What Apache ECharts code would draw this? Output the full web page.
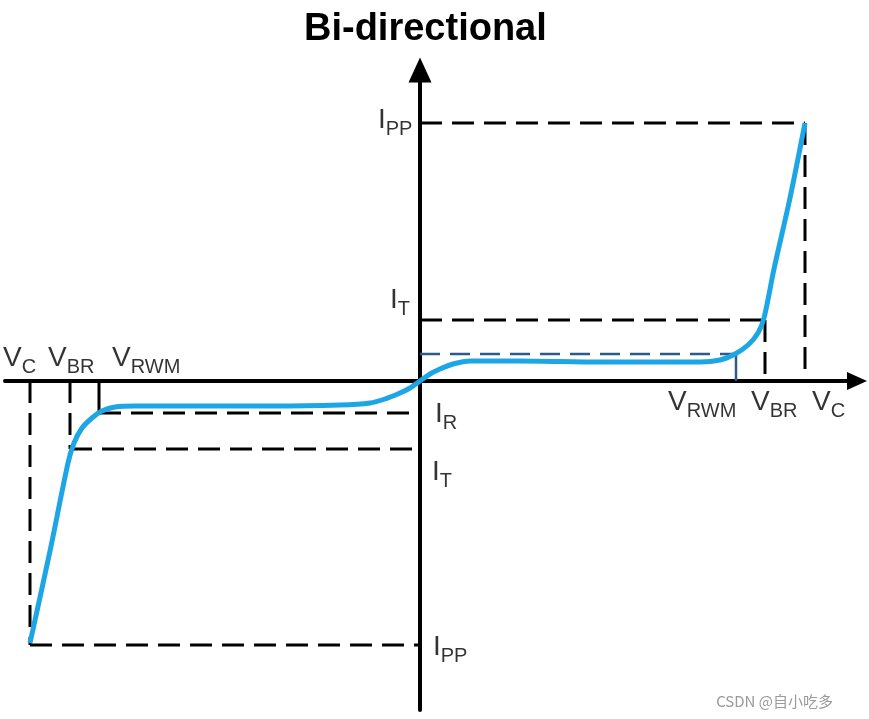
<!DOCTYPE html>
<html>
<head>
<meta charset="utf-8">
<script src="https://cdn.jsdelivr.net/npm/echarts@6/dist/echarts.min.js"></script>
<style>
  html, body { margin: 0; padding: 0; background: #fff; }
  #chart { width: 869px; height: 719px; }
</style>
</head>
<body>
<div id="chart"></div>
<script>
// I-V curve of a bi-directional TVS diode (arbitrary units)
const curveV = [-390, -370, -352, -346, -338, -328, -318, -305, -285, -260, -150, -80, -50, -35, -20, -10, 0, 10, 20, 33, 50, 100, 180, 260, 280, 300, 315, 328, 338, 344, 354, 370, 385];
const curveI = [-262, -170, -82, -62, -47, -37, -30, -26, -25, -25, -25, -24, -22, -18, -12, -7, 0, 7, 12, 17, 20, 20, 19, 19, 19, 21, 27, 36, 48, 63, 112, 183, 258];

// characteristic levels: [VC, VBR, VRWM] and [IPP, IT, IR]
const posV = [385, 345, 316];
const negV = [-390, -350, -321];
const posI = [258, 61, 27];
const negI = [-264, -68, -32];

const vNames = ['C', 'BR', 'RWM'];
const iNames = ['PP', 'T', 'R'];

const BLACK = '#000';
const BLUE = '#1da6e6';
const NAVY = '#2c5b8a';
const FONT = '"Liberation Sans", Arial, sans-serif';

const chart = echarts.init(document.getElementById('chart'));

// one line series per reference segment
function seg(a, b, color, type, width) {
    return {
        type: 'line',
        data: [a, b],
        symbol: 'none',
        silent: true,
        animation: false,
        lineStyle: { color: color, type: type, width: width || 3 },
        z: 2
    };
}

const dash = [22, 10];
const refLines = [
    // positive side
    seg([0, posI[0]], [posV[0], posI[0]], BLACK, dash),
    seg([posV[0], posI[0]], [posV[0], 0], BLACK, dash),
    seg([0, posI[1]], [posV[1], posI[1]], BLACK, dash),
    seg([posV[1], posI[1]], [posV[1], 0], BLACK, dash),
    seg([0, posI[2]], [posV[2], posI[2]], NAVY, [20, 10], 2.5),
    seg([posV[2], posI[2]], [posV[2], 0], NAVY, 'solid', 2.5),
    // negative side
    seg([negV[0], 0], [negV[0], negI[0]], BLACK, dash),
    seg([negV[0], negI[0]], [0, negI[0]], BLACK, dash),
    seg([negV[1], 0], [negV[1], negI[1]], BLACK, dash),
    seg([negV[1], negI[1]], [0, negI[1]], BLACK, dash),
    seg([negV[2], 0], [negV[2], negI[2]], BLACK, 'solid'),
    seg([negV[2], negI[2]], [0, negI[2]], BLACK, dash)
];

const rich = {
    v: { fontSize: 28, lineHeight: 28, verticalAlign: 'top', color: BLACK, fontFamily: FONT },
    s: { fontSize: 20, lineHeight: 20, verticalAlign: 'top', padding: [13, 0, 0, 0], color: BLACK, fontFamily: FONT }
};

function lab(x, y, main, sub, dx, dy) {
    return {
        value: [x, y],
        label: {
            show: true,
            position: [dx, dy],
            align: 'left',
            verticalAlign: 'top',
            color: BLACK,
            formatter: '{v|' + main + '}{s|' + sub + '}',
            rich: rich
        }
    };
}

const labels = [
    lab(negV[0], 0, 'V', vNames[0], -27, -37),
    lab(negV[1], 0, 'V', vNames[1], -22, -37),
    lab(negV[2], 0, 'V', vNames[2], 13, -37),
    lab(posV[2], 0, 'V', vNames[2], -68, 7),
    lab(posV[1], 0, 'V', vNames[1], -14, 7),
    lab(posV[0], 0, 'V', vNames[0], 7, 7),
    lab(0, posI[0], 'I', iNames[0], -42, -17),
    lab(0, posI[1], 'I', iNames[1], -30, -34),
    lab(0, negI[2], 'I', iNames[2], 15, -13),
    lab(0, negI[1], 'I', iNames[1], 12, 9),
    lab(0, negI[0], 'I', iNames[0], 13, -12)
];

const axisLine = (size, offset) => ({
    onZero: true,
    symbol: ['none', 'triangle'],
    symbolSize: size,
    symbolOffset: [0, offset],
    lineStyle: { color: BLACK, width: 4 }
});

chart.setOption({
    animation: false,
    backgroundColor: '#fff',
    title: {
        text: 'Bi-directional',
        left: 299,
        top: 6,
        textStyle: { fontSize: 38, fontWeight: 'bold', color: BLACK, fontFamily: FONT }
    },
    grid: { left: 5, right: 12, top: 70, bottom: 9 },
    xAxis: {
        type: 'value',
        min: -415,
        max: 437,
        axisLine: axisLine([18, 20], 0),
        axisTick: { show: false },
        axisLabel: { show: false },
        splitLine: { show: false }
    },
    yAxis: {
        type: 'value',
        min: -329,
        max: 311,
        axisLine: axisLine([23, 25], 0),
        axisTick: { show: false },
        axisLabel: { show: false },
        splitLine: { show: false }
    },
    graphic: [{
        type: 'text',
        right: 36,
        bottom: 10,
        style: {
            text: 'CSDN @自小吃多',
            fill: '#9a9a9a',
            fontSize: 15,
            fontFamily: '"Noto Sans CJK SC", "Liberation Sans", sans-serif'
        }
    }],
    series: refLines.concat([
        {
            type: 'line',
            data: curveV.map((v, i) => [v, curveI[i]]),
            symbol: 'none',
            smooth: 0.3,
            lineStyle: { color: BLUE, width: 5 },
            z: 3
        },
        {
            type: 'scatter',
            symbolSize: 0,
            data: labels,
            z: 4
        }
    ])
});
</script>
</body>
</html>
